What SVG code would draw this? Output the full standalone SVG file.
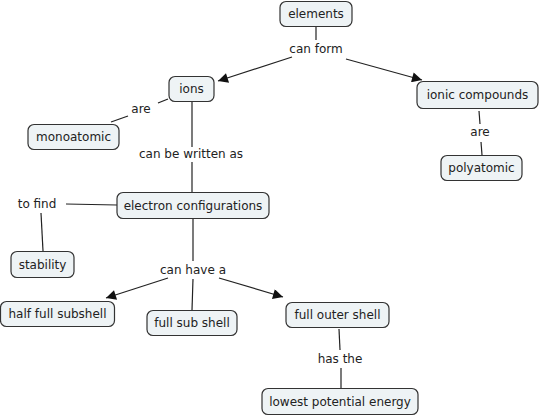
<svg xmlns="http://www.w3.org/2000/svg" width="541" height="417" viewBox="0 0 541 417">
<defs>
<style>
.n rect{fill:#eef3f5;stroke:#333;stroke-width:1.2}
text{font-family:"DejaVu Sans",Verdana,sans-serif;font-size:12px;fill:#222;text-anchor:middle}
.c line{stroke:#222;stroke-width:1.2}
</style>
<marker id="ah" viewBox="0 0 10 10" refX="10" refY="5" markerWidth="13" markerHeight="10" markerUnits="userSpaceOnUse" orient="auto">
<path d="M0,0 L10,5 L0,10 z" fill="#111"/>
</marker>
</defs>
<rect width="541" height="417" fill="#fff"/>
<g class="c" id="connectors">
<line x1="316" y1="27" x2="316" y2="40"/>
<line x1="292" y1="57" x2="218" y2="81" marker-end="url(#ah)"/>
<line x1="346" y1="59" x2="422" y2="80" marker-end="url(#ah)"/>
<line x1="479" y1="111" x2="480" y2="124"/>
<line x1="481" y1="142" x2="482" y2="155"/>
<line x1="168" y1="99" x2="158" y2="103"/>
<line x1="128" y1="116" x2="111" y2="122"/>
<line x1="192" y1="102" x2="192" y2="147"/>
<line x1="192" y1="162" x2="192" y2="192"/>
<line x1="66" y1="204" x2="117" y2="205"/>
<line x1="41" y1="213" x2="43" y2="251"/>
<line x1="193" y1="219" x2="193" y2="261"/>
<line x1="168" y1="278" x2="106" y2="298" marker-end="url(#ah)"/>
<line x1="193" y1="279" x2="192" y2="310"/>
<line x1="219" y1="278" x2="283" y2="297" marker-end="url(#ah)"/>
<line x1="339" y1="329" x2="340" y2="350"/>
<line x1="341" y1="368" x2="341" y2="388"/>
</g>
<g id="labels">
<text x="316" y="53">can form</text>
<text x="480" y="136">are</text>
<text x="141" y="113">are</text>
<text x="191" y="158">can be written as</text>
<text x="37" y="208">to find</text>
<text x="193" y="274">can have a</text>
<text x="340" y="363">has the</text>
</g>
<g class="n" id="n-elements"><rect x="280" y="1.5" width="72" height="25" rx="6"/><text x="316" y="18">elements</text></g>
<g class="n" id="n-ions"><rect x="169" y="76.5" width="45" height="25" rx="6"/><text x="191.5" y="93">ions</text></g>
<g class="n" id="n-ionic"><rect x="417" y="81.5" width="121" height="27" rx="6"/><text x="477.5" y="99">ionic compounds</text></g>
<g class="n" id="n-poly"><rect x="441" y="155.5" width="81" height="25" rx="6"/><text x="481.5" y="172">polyatomic</text></g>
<g class="n" id="n-mono"><rect x="28" y="124.5" width="91" height="25" rx="6"/><text x="73.5" y="141">monoatomic</text></g>
<g class="n" id="n-econf"><rect x="117" y="192.5" width="152" height="26" rx="6"/><text x="193" y="210">electron configurations</text></g>
<g class="n" id="n-stab"><rect x="11" y="251.5" width="63" height="26" rx="6"/><text x="42.5" y="269">stability</text></g>
<g class="n" id="n-half"><rect x="0.5" y="301.5" width="114" height="25" rx="6"/><text x="57.5" y="318">half full subshell</text></g>
<g class="n" id="n-fullsub"><rect x="147" y="310.5" width="90" height="25" rx="6"/><text x="192" y="327">full sub shell</text></g>
<g class="n" id="n-outer"><rect x="286" y="302.5" width="103" height="25" rx="6"/><text x="337.5" y="319">full outer shell</text></g>
<g class="n" id="n-lowest"><rect x="262" y="388.5" width="156" height="26" rx="6"/><text x="340" y="406">lowest potential energy</text></g>
</svg>
